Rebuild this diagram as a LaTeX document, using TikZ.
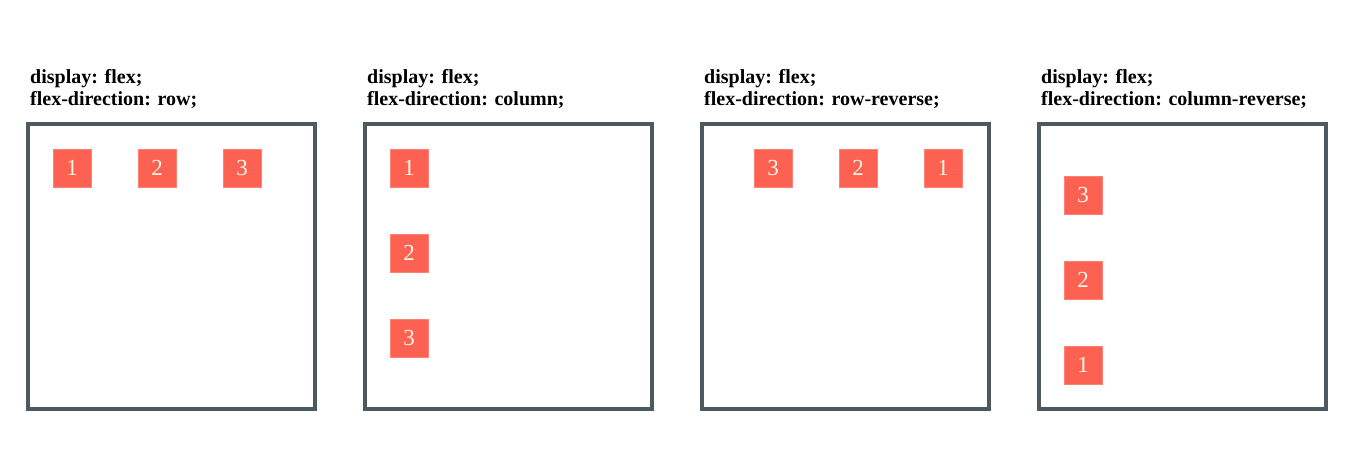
\documentclass[tikz,border=0pt]{standalone}
\usepackage{fontspec}
\setmainfont{Liberation Serif}
\definecolor{framegray}{RGB}{76,90,96}
\definecolor{itemred}{RGB}{253,97,82}
\definecolor{itemtext}{RGB}{255,246,228}
\begin{document}
\begin{tikzpicture}
		[x=1pt,y=-1pt,
		container/.style={rectangle,draw=framegray,line width=4pt,fill=white,
inner sep=0pt,outer sep=0pt,minimum width=287pt,minimum height=285.5pt,anchor=north west},
		item/.style={rectangle,fill=itemred,draw=itemred!80!white,line width=0.6pt,
inner sep=0pt,minimum size=38pt,text=itemtext,font=\fontsize{23}{23}\selectfont},
		heading/.style={anchor=base west,inner sep=0pt,font=\fontsize{20}{22}\selectfont\bfseries}]
		\useasboundingbox (0,0) rectangle (1358,474);
		% row
		\node[heading] (d1) at (30,83) {display: flex;};
		\node[heading] (f1) at (30,105) {flex-direction: row;};
		\node[container] (box1) at (28,123.5) {};
		\node[item] (a1) at (72,168) {1};
		\node[item] (a2) at (157,168) {2};
		\node[item] (a3) at (242,168) {3};
		% column
		\node[heading] (d2) at (367,83) {display: flex;};
		\node[heading] (f2) at (367,105) {flex-direction: column;};
		\node[container] (box2) at (365,123.5) {};
		\node[item] (b1) at (409,168) {1};
		\node[item] (b2) at (409,253) {2};
		\node[item] (b3) at (409,338) {3};
		% row-reverse
		\node[heading] (d3) at (704,83) {display: flex;};
		\node[heading] (f3) at (704,105) {flex-direction: row-reverse;};
		\node[container] (box3) at (702,123.5) {};
		\node[item] (c3) at (773,168) {3};
		\node[item] (c2) at (858,168) {2};
		\node[item] (c1) at (943,168) {1};
		% column-reverse
		\node[heading] (d4) at (1041,83) {display: flex;};
		\node[heading] (f4) at (1041,105) {flex-direction: column-reverse;};
		\node[container] (box4) at (1039,123.5) {};
		\node[item] (e3) at (1083,195) {3};
		\node[item] (e2) at (1083,280) {2};
		\node[item] (e1) at (1083,365) {1};
	\end{tikzpicture}
\end{document}
